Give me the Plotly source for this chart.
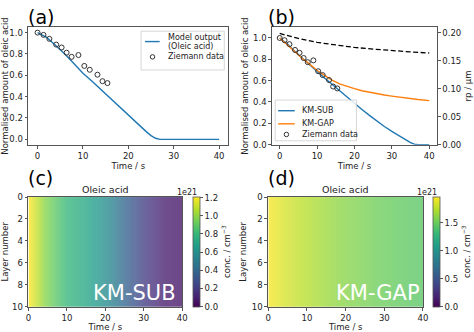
import plotly.graph_objects as go

# ---------------- data ----------------
# (a) model output
t_model_a = [0, 2, 4, 6, 8, 10, 12, 14, 16, 18, 20, 22, 24, 25, 26, 27, 28, 30, 35, 40]
y_model_a = [1.0, 0.955, 0.88, 0.80, 0.71, 0.62, 0.545, 0.465, 0.385, 0.305, 0.225, 0.145,
             0.07, 0.035, 0.01, 0.0, 0.0, 0.0, 0.0, 0.0]
# Ziemann data
t_zie = [0.0, 1.3, 2.6, 4.1, 5.3, 6.4, 7.5, 9.0, 10.3, 11.5, 13.2, 14.3, 15.4]
y_zie = [1.0, 0.979, 0.942, 0.888, 0.861, 0.812, 0.773, 0.79, 0.688, 0.652, 0.606, 0.545, 0.527]
# (b) model outputs
t_b = [0, 2, 4, 6, 8, 10, 12, 14, 16, 18, 20, 22, 24, 26, 28, 30, 32, 34, 35, 36, 37, 40]
km_sub = [1.0, 0.945, 0.875, 0.81, 0.745, 0.685, 0.625, 0.565, 0.505, 0.445, 0.385, 0.33,
          0.275, 0.22, 0.17, 0.125, 0.08, 0.04, 0.02, 0.005, 0.0, 0.0]
km_gap = [1.0, 0.935, 0.87, 0.81, 0.755, 0.695, 0.65, 0.605, 0.57, 0.545, 0.525, 0.505,
          0.49, 0.475, 0.465, 0.455, 0.445, 0.435, 0.431, 0.427, 0.423, 0.413]
t_rp = [0, 5, 10, 15, 20, 25, 30, 35, 40]
rp = [0.199, 0.19, 0.183, 0.178, 0.174, 0.171, 0.168, 0.166, 0.164]
# (c), (d) heat maps (units of 1e21 cm^-3)
t_map = [0, 2, 4, 6, 8, 10, 12, 14, 16, 18, 20, 22, 24, 26, 28, 30, 32, 34, 36, 38, 40]
layers = [0.5, 1.5, 2.5, 3.5, 4.5, 5.5, 6.5, 7.5, 8.5, 9.5]
conc_sub = [1.21, 1.10, 1.00, 0.93, 0.86, 0.80, 0.76, 0.73, 0.69, 0.64, 0.58, 0.51, 0.43,
            0.35, 0.28, 0.22, 0.17, 0.12, 0.09, 0.08, 0.07]
conc_gap = [1.95, 1.90, 1.86, 1.82, 1.78, 1.75, 1.72, 1.69, 1.66, 1.63, 1.61, 1.59, 1.57,
            1.55, 1.53, 1.51, 1.50, 1.48, 1.47, 1.46, 1.45]
time_ticks = [0, 10, 20, 30, 40]
layer_ticks = [0, 2, 4, 6, 8, 10]

W, H = 474, 332
FONT = "DejaVu Sans"
FS = 8.5
AX = "#555555"
BLUE, ORANGE = "#1f77b4", "#ff7f0e"
MK = "#333333"

def px(x):
    return x / W

def py(y):
    return (H - y) / H

fig = go.Figure()

# (a)
fig.add_trace(go.Scatter(x=t_model_a, y=y_model_a, mode="lines", line=dict(color=BLUE, width=1.4),
                         name="Model output (Oleic acid)", xaxis="x", yaxis="y", showlegend=False))
fig.add_trace(go.Scatter(x=t_zie, y=y_zie, mode="markers",
                         marker=dict(symbol="circle-open", size=5, color=MK, line=dict(width=1)),
                         name="Ziemann data", xaxis="x", yaxis="y", showlegend=False))
# (b)
fig.add_trace(go.Scatter(x=t_rp, y=rp, mode="lines", line=dict(color="black", width=1.3, dash="5px,2.5px"),
                         showlegend=False, xaxis="x2", yaxis="y3"))
fig.add_trace(go.Scatter(x=t_b, y=km_sub, mode="lines", line=dict(color=BLUE, width=1.4),
                         name="KM-SUB", xaxis="x2", yaxis="y2", showlegend=False))
fig.add_trace(go.Scatter(x=t_b, y=km_gap, mode="lines", line=dict(color=ORANGE, width=1.4),
                         name="KM-GAP", xaxis="x2", yaxis="y2", showlegend=False))
fig.add_trace(go.Scatter(x=t_zie, y=y_zie, mode="markers",
                         marker=dict(symbol="circle-open", size=5, color=MK, line=dict(width=1)),
                         name="Ziemann data", xaxis="x2", yaxis="y2", showlegend=False))

cb_common = dict(thickness=7, thicknessmode="pixels", lenmode="fraction", len=(311 - 198) / H,
                 y=py(311), yanchor="bottom", ypad=0, xpad=0, xanchor="left",
                 outlinewidth=0.8, outlinecolor=AX, ticks="outside", ticklen=3, tickcolor=AX,
                 tickfont=dict(size=FS, family=FONT, color="#222"),
                 title=dict(text="conc. / cm<sup>−3</sup>", side="right",
                            font=dict(size=FS, family=FONT, color="#222")))

fig.add_trace(go.Heatmap(x=t_map, y=layers, z=[conc_sub for _ in layers], colorscale="Viridis",
                         zmin=0, zmax=1.21, zsmooth="best", opacity=0.78, xaxis="x3", yaxis="y4",
                         colorbar=dict(cb_common, x=px(192), tickvals=[0, 0.2, 0.4, 0.6, 0.8, 1.0, 1.2],
                                       tickformat=".1f")))
fig.add_trace(go.Heatmap(x=t_map, y=layers, z=[conc_gap for _ in layers], colorscale="Viridis",
                         zmin=0, zmax=1.97, zsmooth="best", opacity=0.78, xaxis="x4", yaxis="y5",
                         colorbar=dict(cb_common, x=px(437), tickvals=[0, 0.5, 1.0, 1.5],
                                       tickformat=".1f")))

axstyle = dict(showline=True, linecolor=AX, linewidth=0.9, mirror=True, ticks="outside", ticklen=3,
               tickcolor=AX, showgrid=False, zeroline=False,
               tickfont=dict(size=FS, family=FONT, color="#222"))
tfont = dict(size=FS, family=FONT, color="#222")

ya_dom = [py(144), py(23)]
yc_dom = [py(311), py(198)]

fig.update_layout(
    width=W, height=H, margin=dict(l=0, r=0, t=0, b=0),
    paper_bgcolor="white", plot_bgcolor="white", showlegend=False,
    font=dict(family=FONT, size=FS, color="#222"),
    xaxis=dict(axstyle, domain=[px(24), px(228)], range=[-2, 42], anchor="y", tickvals=time_ticks,
               title=dict(text="Time / s", font=tfont, standoff=2)),
    yaxis=dict(axstyle, domain=ya_dom, range=[-0.05, 1.05], anchor="x",
               tickvals=[0, 0.2, 0.4, 0.6, 0.8, 1.0], tickformat=".1f",
               title=dict(text="Normalised amount of oleic acid", font=tfont, standoff=3)),
    xaxis2=dict(axstyle, domain=[px(273), px(441)], range=[-2, 42], anchor="y2", tickvals=time_ticks,
                title=dict(text="Time / s", font=tfont, standoff=2)),
    yaxis2=dict(axstyle, domain=ya_dom, range=[0, 1.1], anchor="x2", mirror=False,
                tickvals=[0, 0.2, 0.4, 0.6, 0.8, 1.0], tickformat=".1f",
                title=dict(text="Normalised amount of oleic acid", font=tfont, standoff=3)),
    yaxis3=dict(axstyle, overlaying="y2", side="right", anchor="x2", range=[0, 0.21], mirror=False,
                tickvals=[0, 0.05, 0.10, 0.15, 0.20], tickformat=".2f",
                title=dict(text="rp / μm", font=tfont, standoff=4)),
    xaxis3=dict(axstyle, domain=[px(24), px(181)], range=[0, 40], anchor="y4", tickvals=time_ticks,
                title=dict(text="Time / s", font=tfont, standoff=2)),
    yaxis4=dict(axstyle, domain=yc_dom, range=[10, 0], anchor="x3", tickvals=layer_ticks,
                title=dict(text="Layer number", font=tfont, standoff=3)),
    xaxis4=dict(axstyle, domain=[px(269), px(427)], range=[0, 40], anchor="y5", tickvals=time_ticks,
                title=dict(text="Time / s", font=tfont, standoff=2)),
    yaxis5=dict(axstyle, domain=yc_dom, range=[10, 0], anchor="x4", tickvals=layer_ticks,
                title=dict(text="Layer number", font=tfont, standoff=3)),
)

# ---- legend boxes (decoration drawn in paper coordinates) ----
shapes = []
ann = []
LFONT = dict(size=8, family=FONT, color="#222")

def legend_box(x0, y0, x1, y1):
    shapes.append(dict(type="rect", xref="paper", yref="paper", x0=px(x0), x1=px(x1), y0=py(y1), y1=py(y0),
                       fillcolor="rgba(255,255,255,0.82)", line=dict(color="#cccccc", width=0.8)))

def legend_line(x0, x1, y, color):
    shapes.append(dict(type="line", xref="paper", yref="paper", x0=px(x0), x1=px(x1), y0=py(y), y1=py(y),
                       line=dict(color=color, width=1.4)))

def legend_marker(xc, yc):
    r = 2.3
    shapes.append(dict(type="circle", xref="paper", yref="paper", x0=px(xc - r), x1=px(xc + r),
                       y0=py(yc + r), y1=py(yc - r), line=dict(color=MK, width=1)))

def legend_text(txt, x, y):
    ann.append(dict(text=txt, x=px(x), y=py(y), xref="paper", yref="paper", xanchor="left",
                    yanchor="middle", showarrow=False, font=LFONT))

# legend (a)
legend_box(139, 27, 224, 67)
legend_line(143, 158, 37.7, BLUE)
legend_text("Model output", 164.5, 33)
legend_text("(Oleic acid)", 164.5, 42.5)
legend_marker(150.7, 53.5)
legend_text("Ziemann data", 164.5, 53.5)

# legend (b)
legend_box(276, 98, 359, 140)
legend_line(279, 296, 109, BLUE)
legend_text("KM-SUB", 301, 109)
legend_line(279, 296, 122.5, ORANGE)
legend_text("KM-GAP", 301, 122.5)
legend_marker(287.5, 133.5)
legend_text("Ziemann data", 301, 133.5)

for txt, x, y in [("(a)", 21, -1), ("(b)", 267, -1), ("(c)", 21, 165), ("(d)", 267, 165)]:
    ann.append(dict(text=txt, x=px(x), y=py(y), xref="paper", yref="paper", xanchor="left",
                    yanchor="top", showarrow=False, font=dict(size=19, family=FONT, color="black")))
for x0, x1 in [(24, 181), (269, 427)]:
    ann.append(dict(text="Oleic acid", x=px((x0 + x1) / 2), y=py(198), xref="paper", yref="paper",
                    xanchor="center", yanchor="bottom", showarrow=False, yshift=0,
                    font=dict(size=9.5, family=FONT, color="#222")))
for xr in [198, 443]:
    ann.append(dict(text="1e21", x=px(xr), y=py(198), xref="paper", yref="paper", xanchor="right",
                    yanchor="bottom", showarrow=False, yshift=-2,
                    font=dict(size=8, family=FONT, color="#222")))
ann.append(dict(text="KM-SUB", x=px(177), y=py(311), xref="paper", yref="paper", xanchor="right",
                yanchor="bottom", showarrow=False, font=dict(size=21, family=FONT, color="white")))
ann.append(dict(text="KM-GAP", x=px(426), y=py(311), xref="paper", yref="paper", xanchor="right",
                yanchor="bottom", showarrow=False, font=dict(size=21, family=FONT, color="white")))
fig.update_layout(annotations=ann, shapes=shapes)

fig.write_html("out.html")
